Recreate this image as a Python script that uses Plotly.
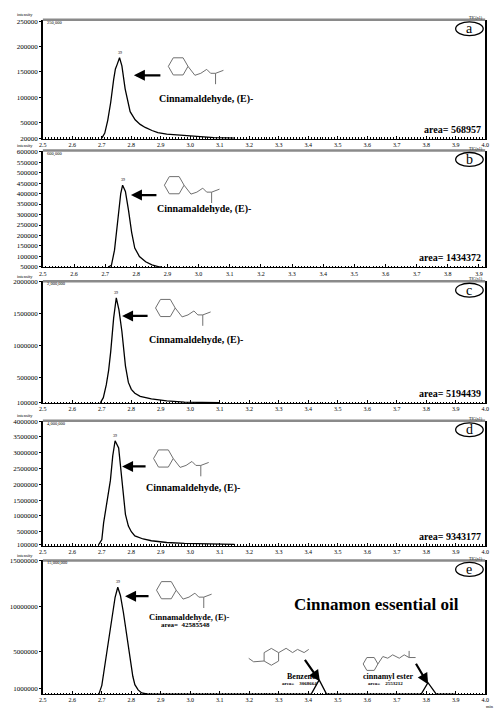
import math
import plotly.graph_objects as go

# retention time (min) and intensity
time_a = [2.70, 2.71, 2.72, 2.73, 2.74, 2.746, 2.752, 2.76, 2.768, 2.779, 2.796, 2.813, 2.83, 2.847,
          2.87, 2.89, 2.92, 2.96, 3.01, 3.08, 3.15]
int_a = [20000, 30000, 55000, 90000, 135000, 156000, 165000, 178000, 162000, 117000, 72000, 56000, 47000,
         41000, 35000, 31000, 28000, 26000, 23000, 21000, 20000]

time_b = [2.71, 2.72, 2.73, 2.74, 2.75, 2.756, 2.765, 2.775, 2.785, 2.795, 2.81, 2.83, 2.85, 2.87, 2.88]
int_b = [50000, 58000, 130000, 260000, 400000, 440000, 410000, 320000, 215000, 140000, 100000, 75000,
         60000, 52000, 50000]

time_c = [2.695, 2.705, 2.715, 2.723, 2.73, 2.74, 2.749, 2.758, 2.768, 2.78, 2.79, 2.80, 2.812, 2.83,
          2.868, 2.92, 2.98, 3.05, 3.10]
int_c = [100000, 180000, 380000, 610000, 900000, 1430000, 1750000, 1560000, 1220000, 680000, 420000,
         310000, 250000, 200000, 160000, 128000, 110000, 103000, 100000]

time_d = [2.69, 2.70, 2.706, 2.72, 2.729, 2.737, 2.745, 2.757, 2.765, 2.773, 2.78, 2.79, 2.80, 2.812,
          2.84, 2.868, 2.92, 2.98, 3.06, 3.15]
int_d = [100000, 250000, 780000, 1600000, 2125000, 2900000, 3380000, 3156000, 2450000, 1600000, 1050000,
         680000, 500000, 370000, 270000, 215000, 160000, 130000, 110000, 100000]

time_e = [2.69, 2.70, 2.712, 2.723, 2.734, 2.745, 2.754, 2.763, 2.773, 2.785, 2.796, 2.805, 2.812, 2.823,
          2.835, 2.857, 3.00, 3.41, 3.437, 3.462, 3.60, 3.783, 3.806, 3.834, 3.90]
int_e = [330000, 1300000, 3900000, 6300000, 8600000, 11000000, 12100000, 11200000, 9350000, 6500000,
         3900000, 2300000, 1380000, 800000, 470000, 330000, 330000, 330000, 1900000, 330000, 330000,
         330000, 1600000, 330000, 330000]

panel_letters = ['a', 'b', 'c', 'd', 'e']
areas = ['568957', '1434372', '5194439', '9343177', '42585548']
max_labels = ['250,000', '600,000', '2,000,000', '4,000,000', '15,000,000']

yticks_a = [20000, 50000, 100000, 150000, 200000, 250000]
yticks_b = [50000, 100000, 150000, 200000, 250000, 300000, 350000, 400000, 450000, 500000, 550000, 600000]
yticks_c = [100000, 500000, 1000000, 1500000, 2000000]
yticks_d = [100000, 500000, 1000000, 1500000, 2000000, 2500000, 3000000, 3500000, 4000000]
yticks_e = [1000000, 5000000, 10000000, 15000000]

W, H = 500, 715
SERIF = "Liberation Serif"


def px(x, y):
    # pixel position -> paper coordinates
    return x / W, 1 - y / H


def label(text, x, y, size, xanchor='center', yanchor='middle'):
    x_, y_ = px(x, y)
    return dict(text=text, x=x_, y=y_, xref='paper', yref='paper', showarrow=False,
                xanchor=xanchor, yanchor=yanchor, font=dict(family=SERIF, size=size, color='black'))


def arrow(hx, hy, tx, ty):
    x_, y_ = px(hx, hy)
    return dict(text='', x=x_, y=y_, xref='paper', yref='paper', showarrow=True,
                ax=tx - hx, ay=ty - hy, arrowhead=2, arrowsize=1, arrowwidth=2.2, arrowcolor='black')


# panel geometry in pixels: top, bottom, y range, x range
panels = [
    dict(t=17, b=137, yr=[19000, 252500], xr=[2.5, 4.0], x=time_a, y=int_a, yt=yticks_a),
    dict(t=149, b=267, yr=[48000, 605000], xr=[2.5, 3.92], x=time_b, y=int_b, yt=yticks_b),
    dict(t=281, b=404, yr=[95000, 2010000], xr=[2.5, 4.0], x=time_c, y=int_c, yt=yticks_c),
    dict(t=422, b=548, yr=[60000, 4010000], xr=[2.5, 4.0], x=time_d, y=int_d, yt=yticks_d),
    dict(t=563, b=698, yr=[330000, 15050000], xr=[2.5, 4.0], x=time_e, y=int_e, yt=yticks_e),
]
L, R = 39.5, 489

fig = go.Figure()
shapes = []
annotations = []

for i, p in enumerate(panels):
    n = '' if i == 0 else str(i + 1)
    fig.add_trace(go.Scatter(x=p['x'], y=p['y'], mode='lines', line=dict(color='black', width=1.3),
                             xaxis='x' + n, yaxis='y' + n, showlegend=False, hoverinfo='skip'))
    fig.update_layout({
        'xaxis' + n: dict(domain=[L / W, R / W], range=p['xr'], anchor='y' + n, dtick=0.1, tick0=2.5,
                          tickformat='.1f', showgrid=False, zeroline=False, showline=True,
                          linecolor='black', linewidth=1, ticks='inside', ticklen=3, tickcolor='black',
                          minor=dict(dtick=0.01, ticks='inside', ticklen=1.5, tickcolor='black'),
                          tickfont=dict(family=SERIF, size=6, color='black'), ticklabelstandoff=0),
        'yaxis' + n: dict(domain=[1 - p['b'] / H, 1 - p['t'] / H], range=p['yr'], anchor='x' + n,
                          tickvals=p['yt'], ticktext=[str(v) for v in p['yt']], showgrid=False,
                          zeroline=False, showline=True, mirror=True, linecolor='black', linewidth=1.5,
                          ticks='outside', ticklen=2, tickcolor='black',
                          tickfont=dict(family=SERIF, size=7, color='black')),
    })
    # gray top border
    x0, y0 = px(L, p['t'])
    x1, _ = px(R, p['t'])
    shapes.append(dict(type='line', xref='paper', yref='paper', x0=x0, x1=x1, y0=y0, y1=y0,
                       line=dict(color='#8a8a8a', width=2.5)))
    # circled panel letter
    cx, cy = 473, p['t'] + 9
    ex0, ey0 = px(cx - 14, cy - 7)
    ex1, ey1 = px(cx + 14, cy + 7)
    shapes.append(dict(type='circle', xref='paper', yref='paper', x0=ex0, x1=ex1, y0=ey1, y1=ey0,
                       line=dict(color='black', width=1.3)))
    annotations.append(label(panel_letters[i], cx, cy, 14))
    # small labels around frame
    annotations.append(label('intensity', 21, p['t'] - 5, 4.5))
    annotations.append(label(max_labels[i], L + 2, p['t'] + 3, 4.5, xanchor='left'))
    annotations.append(label('TIC(x1)', 489, p['t'] - 2.5, 4, xanchor='right'))
    # peak number above main peak
    k = p['y'].index(max(p['y'][:16]))
    annotations.append(dict(text='39', x=p['x'][k], y=p['y'][k], xref='x' + n, yref='y' + n,
                            showarrow=False, xanchor='center', yanchor='bottom', yshift=1,
                            font=dict(family=SERIF, size=4, color='black')))
    # area label (panels a-d)
    if i < 4:
        annotations.append(label('<b>area= ' + areas[i] + '</b>', 487, p['b'] - 2, 10,
                                 xanchor='right', yanchor='bottom'))


def structure(hx, hy, r, chain, branches, pointy=False):
    # simple skeletal drawing: hexagon plus side chain (pixel offsets from ring centre)
    pts = []
    for j in range(6):
        ang = math.radians(60 * j + (30 if pointy else 0))
        pts.append(px(hx + r * math.cos(ang), hy + r * math.sin(ang)))
    path = 'M ' + ' L '.join('%.5f,%.5f' % q for q in pts) + ' Z'
    shapes.append(dict(type='path', path=path, xref='paper', yref='paper',
                       line=dict(color='#707070', width=1)))
    for seg in [chain] + branches:
        path = 'M ' + ' L '.join('%.5f,%.5f' % px(hx + a, hy + b) for a, b in seg)
        shapes.append(dict(type='path', path=path, xref='paper', yref='paper',
                           line=dict(color='#707070', width=1)))


cinn_chain = [(10, 0), (17, 9), (23, 7), (29, 3), (33, 7), (38, 7)]
cinn_branch = [[(38, 7), (38, 18)], [(38, 7), (46, 4)]]

# cinnamaldehyde structure, arrow and name in each panel
struct_pos = [(177, 64), (173, 184), (164, 308), (162, 460), (165, 593)]
arrow_pos = [(132, 160, 73), (129, 156, 194), (120, 147, 316), (120, 145, 468), (123, 148, 599)]
name_pos = [(205, 97), (203, 208), (195, 340), (192, 490), (188, 620)]

for i in range(5):
    structure(struct_pos[i][0], struct_pos[i][1], 10, cinn_chain, cinn_branch)
    hx, tx, ay_ = arrow_pos[i]
    annotations.append(arrow(hx, ay_, tx, ay_))
    annotations.append(label('<b>Cinnamaldehyde, (E)-</b>', name_pos[i][0], name_pos[i][1],
                             10 if i < 4 else 8.5))

# panel e extras
annotations.append(label('<b>area=  ' + areas[4] + '</b>', 184, 628, 7))
annotations.append(label('<b>Cinnamon essential oil</b>', 379, 607, 17))

# benzene derivative
structure(271.7, 660.3, 8.5, [(7.4, -4.2), (15, -8.6), (21.6, -4.3), (26.6, -7.5), (33.3, -4.3),
                               (38, -7.5)],
          [[(-7.4, 4.2), (-18, 5), (-23, 1.5)]], pointy=True)
# cinnamyl ester
structure(372.5, 667.5, 7.5, [(7.5, 0), (12.5, -7.5), (17.5, -5.8), (22.5, -9.2), (29.2, -5.8),
                               (34.2, -9.2), (39.2, -6.5)],
          [[(39.2, -6.5), (39.2, -13.2)], [(39.2, -6.5), (45.8, -6.5)]])

small_labels = [('Benzene', '3068664', 302), ('cinnamyl ester', '2553212', 390)]
arrow_ends = [(305, 662, 321, 685), (418, 666, 431, 688)]
for (name, ar, cx), (tx0, ty0, hx, hy) in zip(small_labels, arrow_ends):
    annotations.append(label('<b>' + name + '</b>', cx, 680, 8))
    annotations.append(label('<b>area=    ' + ar + '</b>', cx - 2, 687.5, 5))
    annotations.append(arrow(hx, hy, tx0, ty0))

annotations.append(label('min', 494, 710.5, 4.5))

fig.update_layout(width=W, height=H, margin=dict(l=0, r=0, t=0, b=0),
                  plot_bgcolor='white', paper_bgcolor='white',
                  shapes=shapes, annotations=annotations)

fig.write_html("out.html", config={'displayModeBar': False},
               post_script="document.body.style.margin='0px';")
